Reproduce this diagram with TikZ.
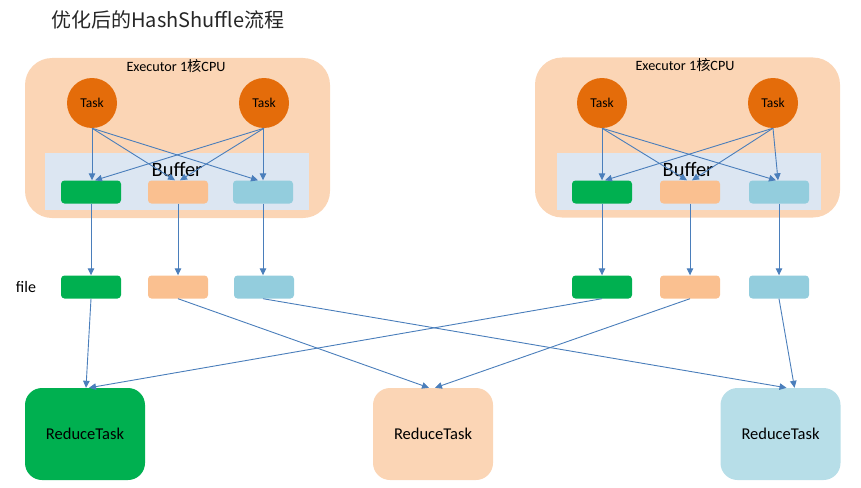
\documentclass[tikz,border=0pt]{standalone}
\usepackage{fontspec}
\setmainfont{Carlito}
\newfontfamily\cjk{Noto Sans CJK SC}
\usetikzlibrary{arrows.meta,calc}
\definecolor{peach}{HTML}{FBD5B5}
\definecolor{bufbg}{HTML}{DCE6F2}
\definecolor{taskor}{HTML}{E46C0A}
\definecolor{grn}{HTML}{00B050}
\definecolor{orn}{HTML}{FAC090}
\definecolor{blu}{HTML}{93CDDD}
\definecolor{rblu}{HTML}{B7DEE8}
\definecolor{arr}{HTML}{4A7EBB}
\definecolor{ttl}{HTML}{262626}
\tikzset{
  execbox/.style={rectangle,rounded corners=27pt,fill=peach,minimum width=305pt,minimum height=160pt,inner sep=0pt},
  bufbox/.style={rectangle,fill=bufbg,minimum width=264pt,minimum height=57pt,inner sep=0pt},
  taskc/.style={circle,fill=taskor,minimum size=50pt,inner sep=0pt,font=\fontsize{13.5}{15}\selectfont},
  smallbox/.style={rectangle,rounded corners=3.5pt,minimum width=60pt,minimum height=23pt,inner sep=0pt},
  redbox/.style={rectangle,rounded corners=17pt,minimum width=120pt,minimum height=92pt,inner sep=0pt,font=\fontsize{16.5}{18}\selectfont},
  conn/.style={draw=arr,line width=0.9pt,-{Triangle[length=7pt,width=6.5pt]}},
  lbl/.style={inner sep=0pt}
}
\begin{document}
\begin{tikzpicture}[x=1pt,y=-1pt]
\useasboundingbox (0,0) rectangle (861,487);
% title
\node[lbl,text=ttl,font=\cjk\fontsize{20}{22}\selectfont] (title) at (168,20) {优化后的HashShuffle流程};
% executors
\node[execbox] (ex1) at (177.5,138) {};
\node[execbox] (ex2) at (687.5,137.5) {};
\node[lbl,font=\fontsize{14.2}{15}\selectfont] (exl1) at (176,66) {Executor 1{\cjk 核}CPU};
\node[lbl,font=\fontsize{14.2}{15}\selectfont] (exl2) at (685,65) {Executor 1{\cjk 核}CPU};
\node[bufbox] (buf1) at (177,181.5) {};
\node[bufbox] (buf2) at (688.5,181) {};
\node[lbl,font=\fontsize{20.5}{22}\selectfont] (bl1) at (177,169) {Buffer};
\node[lbl,font=\fontsize{20.5}{22}\selectfont] (bl2) at (688,169) {Buffer};
% tasks
\node[taskc] (t1) at (92,103) {Task};
\node[taskc] (t2) at (264,103) {Task};
\node[taskc] (t3) at (602,103) {Task};
\node[taskc] (t4) at (773,103) {Task};
% buffer boxes
\node[smallbox,fill=grn] (g1) at (91,192) {};
\node[smallbox,fill=orn] (o1) at (178,192) {};
\node[smallbox,fill=blu] (b1) at (263,192) {};
\node[smallbox,fill=grn] (g2) at (602,192) {};
\node[smallbox,fill=orn] (o2) at (690,192) {};
\node[smallbox,fill=blu] (b2) at (779,192) {};
% file boxes
\node[lbl,font=\fontsize{16}{18}\selectfont] (file) at (26,287) {file};
\node[smallbox,fill=grn] (fg1) at (91,287) {};
\node[smallbox,fill=orn] (fo1) at (178,287) {};
\node[smallbox,fill=blu] (fb1) at (264,287) {};
\node[smallbox,fill=grn] (fg2) at (602,287) {};
\node[smallbox,fill=orn] (fo2) at (690,287) {};
\node[smallbox,fill=blu] (fb2) at (779,287) {};
% reduce tasks
\node[redbox,fill=grn] (r1) at (85,434) {ReduceTask};
\node[redbox,fill=peach] (r2) at (433,434) {ReduceTask};
\node[redbox,fill=rblu] (r3) at (780.5,434) {ReduceTask};
% task -> buffer
\draw[conn] (t1.south) -- ($(g1.north)+(1,0)$);
\draw[conn] (t1.south) -- ($(o1.north)+(-3,0)$);
\draw[conn] (t1.south) -- ($(b1.north)+(-5,0)$);
\draw[conn] (t2.south) -- ($(g1.north)+(4,0)$);
\draw[conn] (t2.south) -- ($(o1.north)+(2,0)$);
\draw[conn] ($(t2.south)+(-1,0)$) -- ($(b1.north)+(0,0)$);
\draw[conn] (t3.south) -- ($(g2.north)+(0,0)$);
\draw[conn] (t3.south) -- ($(o2.north)+(-3,0)$);
\draw[conn] (t3.south) -- ($(b2.north)+(-3,0)$);
\draw[conn] (t4.south) -- ($(g2.north)+(3,0)$);
\draw[conn] (t4.south) -- ($(o2.north)+(2,0)$);
\draw[conn] (t4.south) -- ($(b2.north)+(-1,0)$);
% buffer -> file
\draw[conn] (g1.south) -- (fg1.north);
\draw[conn] (o1.south) -- (fo1.north);
\draw[conn] (b1.south) -- ($(fb1.north)+(-1,0)$);
\draw[conn] (g2.south) -- (fg2.north);
\draw[conn] (o2.south) -- (fo2.north);
\draw[conn] (b2.south) -- (fb2.north);
% file -> reduce
\draw[conn] (fg1.south) -- ($(r1.north)+(1,0)$);
\draw[conn] (fo1.south) -- ($(r2.north)+(-4,0)$);
\draw[conn] ($(fb1.south)+(-1,0)$) -- ($(r3.north)+(6,0)$);
\draw[conn] (fg2.south) -- ($(r1.north)+(4,0)$);
\draw[conn] (fo2.south) -- ($(r2.north)+(2,0)$);
\draw[conn] (fb2.south) -- ($(r3.north)+(14,0)$);
\end{tikzpicture}
\end{document}
